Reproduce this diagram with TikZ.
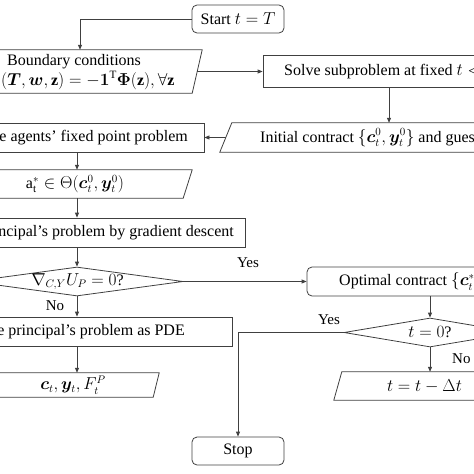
\documentclass[tikz,border=0pt]{standalone}
\usepackage{amsmath,bm}
\usepackage{fontspec}
\setmainfont{Liberation Serif}
\usetikzlibrary{arrows.meta,shapes.geometric}

\newcommand\parabox[2]{\draw[boxline] ([xshift=#2]#1.north west) -- ([xshift=#2]#1.north east) -- ([xshift=-#2]#1.south east) -- ([xshift=-#2]#1.south west) -- cycle;}

\begin{document}
\begin{tikzpicture}[x=1pt,y=-1pt,
 font=\fontsize{16}{19}\selectfont,
 boxline/.style={draw=black!75, line width=0.8pt},
 box/.style={rectangle, boxline, inner sep=0pt},
 rbox/.style={box, rounded corners=5pt},
 pbox/.style={rectangle, inner sep=0pt},
 dbox/.style={diamond, boxline, inner sep=0pt},
 txt/.style={inner sep=0pt},
 arr/.style={draw=black!75, line width=0.8pt, -{Triangle[length=5pt,width=4pt]}},
 lbl/.style={inner sep=0pt, font=\fontsize{15}{18}\selectfont}]
\useasboundingbox (0,0) rectangle (474,474);
\clip (0,0) rectangle (474,474);

% nodes
\node[rbox, minimum width=92, minimum height=28] (start) at (238,19) {Start $t = T$};

\node[pbox, minimum width=234, minimum height=43] (bc) at (80,71.5) {};
\parabox{bc}{5}
\node[txt, anchor=west, align=left] (bct) at (1,72) {\hspace*{6pt}Boundary conditions\\[1pt] $(\boldsymbol{T},\boldsymbol{w},\boldsymbol{\mathrm{z}}) = -\boldsymbol{1}^{\mathrm{T}}\boldsymbol{\Phi}(\boldsymbol{\mathrm{z}}), \forall \boldsymbol{\mathrm{z}}$};

\node[box, minimum width=252, minimum height=32] (solve) at (389,71.5) {};
\node[txt, anchor=west] (solvet) at (284,71.5) {Solve subproblem at fixed $t <$};

\node[pbox, minimum width=326, minimum height=29] (init) at (389,137.5) {};
\parabox{init}{6}
\node[txt, anchor=west] (initt) at (260,137.5) {Initial contract $\{\boldsymbol{c}_t^0, \boldsymbol{y}_t^0\}$ and guess};

\node[box, minimum width=254, minimum height=29] (agents) at (77,137.5) {};
\node[txt, anchor=east] (agentst) at (188,137.5) {re agents’ fixed point problem};

\node[pbox, minimum width=221, minimum height=28] (act) at (77,184) {};
\parabox{act}{4.5}
\node[txt] (actt) at (75,184) {$\mathrm{a}_{\mathrm{t}}^{*} \in \Theta(\boldsymbol{c}_t^0,\boldsymbol{y}_t^0)$};

\node[box, minimum width=336, minimum height=29] (grad) at (77,232.5) {};
\node[txt, anchor=east] (gradt) at (234,232.5) {rincipal’s problem by gradient descent};

\node[dbox, minimum width=212, minimum height=29] (d1) at (77,281.5) {};
\node[txt] (d1t) at (77.5,281.5) {$\nabla_{C,Y}U_P = 0$?};

\node[rbox, minimum width=246, minimum height=29] (opt) at (430,281.5) {};
\node[txt, anchor=west] (optt) at (339,281.5) {Optimal contract $\{\boldsymbol{c}_t^{*},$};

\node[dbox, minimum width=172, minimum height=29] (d2) at (430,332.5) {};
\node[txt] (d2t) at (430,332.5) {$t = 0$?};

\node[pbox, minimum width=184, minimum height=28] (dec) at (430,386) {};
\parabox{dec}{4}
\node[txt] (dect) at (424.5,386) {$t = t - \Delta t$};

\node[box, minimum width=310, minimum height=29] (pde) at (77,331.5) {};
\node[txt, anchor=east] (pdet) at (185,331.5) {e principal’s problem as PDE};

\node[pbox, minimum width=176, minimum height=24] (out) at (68,385) {};
\parabox{out}{3}
\node[txt] (outt) at (73,385) {$\boldsymbol{c}_t, \boldsymbol{y}_t, F_t^P$};

\node[rbox, minimum width=92, minimum height=28] (stop) at (238,451) {Stop};

% labels
\node[lbl] (yes1) at (248,263) {Yes};
\node[lbl] (no1) at (55,306) {No};
\node[lbl] (yes2) at (329,320) {Yes};
\node[lbl, anchor=west] (no2) at (452,359) {No};

% connectors
\draw[arr] (start.west) -| (bc.north);
\draw[arr] (bc.east) -- (solve.west);
\draw[arr] (solve.south) -- (init.north);
\draw[arr] (init.west) -- (agents.east);
\draw[arr] (agents.south) -- (act.north);
\draw[arr] (act.south) -- (grad.north);
\draw[arr] (grad.south) -- (d1.north);
\draw[arr] (d1.east) -- (opt.west);
\draw[arr] (d1.south) -- (pde.north);
\draw[arr] (pde.south) -- (pde.south |- out.north);
\draw[arr] (opt.south) -- (d2.north);
\draw[arr] (d2.south) -- (dec.north);
\draw[arr] (d2.west) -| (stop.north);
\end{tikzpicture}
\end{document}
